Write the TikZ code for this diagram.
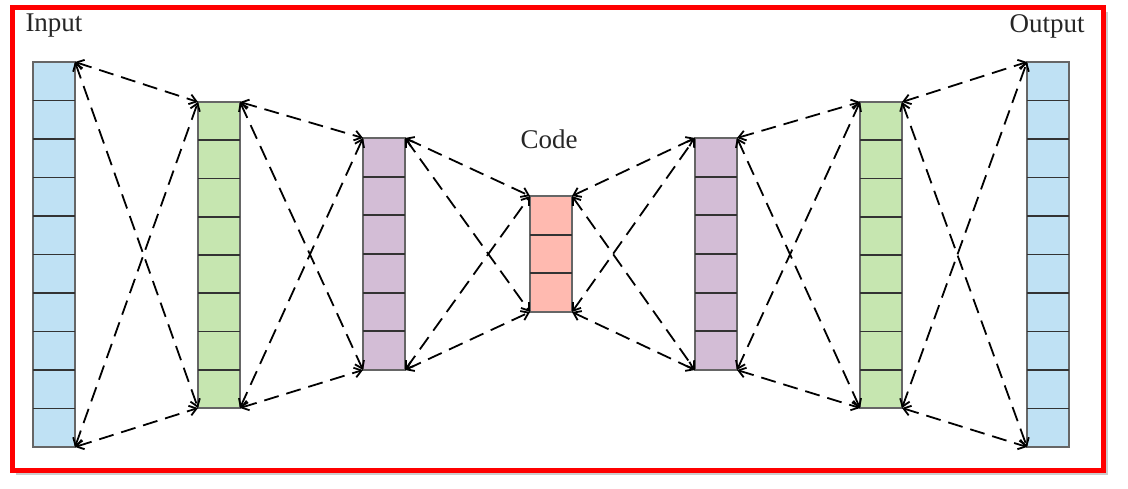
\documentclass[tikz,border=0pt]{standalone}
\usepackage{fontspec}
\setmainfont{Liberation Serif}
\usetikzlibrary{arrows.meta}
\definecolor{cblue}{HTML}{BFE1F4}
\definecolor{cgreen}{HTML}{C6E6B0}
\definecolor{cpurp}{HTML}{D3BDD6}
\definecolor{cred}{HTML}{FFBAB0}
\tikzset{
  col/.style={draw=black!60, line width=1.6pt, minimum width=42pt, inner sep=0pt, outer sep=0pt},
  conn/.style={dash pattern=on 15pt off 8pt, line width=1.8pt, {Straight Barb[length=7pt,width=10pt]}-{Straight Barb[length=7pt,width=10pt]}},
  lbl/.style={font=\fontsize{27}{30}\selectfont, inner sep=0pt, text=black!85}
}
\newcommand{\mycol}[6]{% name, x, ytop, ybot, n, color
  \node[col, fill=#6, minimum height={#4-#3}, anchor=north] (#1) at (#2,#3) {};
  \pgfmathsetmacro{\hh}{(#4-#3)/#5}
  \foreach \i in {1,...,\numexpr#5-1\relax}{
    \draw[black!80, line width=1.7pt] ([yshift={-\i*\hh}]#1.north west) -- ([yshift={-\i*\hh}]#1.north east);
  }
}
\newcommand{\link}[2]{%
  \draw[conn] (#1.north east) -- (#2.north west);
  \draw[conn] (#1.north east) -- (#2.south west);
  \draw[conn] (#1.south east) -- (#2.north west);
  \draw[conn] (#1.south east) -- (#2.south west);
}
\begin{document}
\begin{tikzpicture}[x=1pt,y=-1pt]
\useasboundingbox (0,0) rectangle (1128,489);
\fill[black!20] (16,12) rectangle (1108,475);
\draw[red, line width=5pt, fill=white] (12,8) rectangle (1103,470);
\mycol{c1}{54}{62}{447}{10}{cblue}
\mycol{c2}{219}{102}{408}{8}{cgreen}
\mycol{c3}{384}{138}{370}{6}{cpurp}
\mycol{c4}{551}{196}{312}{3}{cred}
\mycol{c5}{716}{138}{370}{6}{cpurp}
\mycol{c6}{881}{102}{408}{8}{cgreen}
\mycol{c7}{1048}{62}{447}{10}{cblue}
\link{c1}{c2}
\link{c2}{c3}
\link{c3}{c4}
\link{c4}{c5}
\link{c5}{c6}
\link{c6}{c7}
\node[lbl] (tin) at (54,26) {Input};
\node[lbl] (tcode) at (549,139) {Code};
\node[lbl] (tout) at (1047,26) {Output};
\end{tikzpicture}
\end{document}
